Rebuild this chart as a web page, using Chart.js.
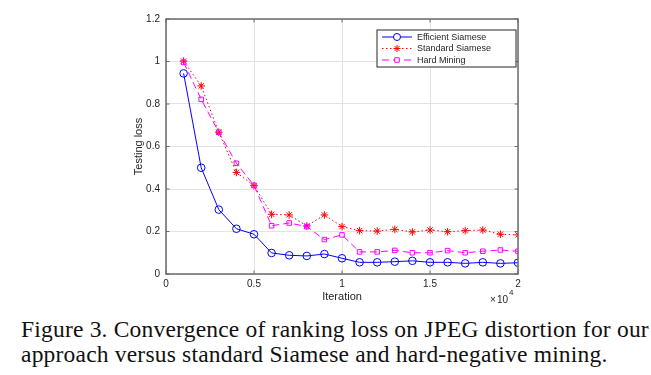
<!DOCTYPE html>
<html>
<head>
<meta charset="utf-8">
<script src="https://cdn.jsdelivr.net/npm/chart.js@4.4.0/dist/chart.umd.min.js"></script>
<style>
  html, body { margin: 0; padding: 0; background: #fff; }
  #wrap { position: relative; width: 651px; height: 375px; overflow: hidden; }
  #chartBox { position: absolute; left: 0; top: 0; width: 651px; height: 310px; }
  .cap { position: absolute; left: 21px; font-family: "Liberation Serif", "Times New Roman", serif; font-size: 23.5px; letter-spacing: 0.2px; color: #111; white-space: nowrap; line-height: 1; }
</style>
</head>
<body>
<div id="wrap">
  <div id="chartBox"><canvas id="grafico" width="651" height="310"></canvas></div>
  <div class="cap" id="cap1" style="top: 318px;">Figure 3. Convergence of ranking loss on JPEG distortion for our</div>
  <div class="cap" id="cap2" style="top: 343px;">approach versus standard Siamese and hard-negative mining.</div>
</div>
<script>
// iteracoes (eixo x)
const iteracoes = [1000, 2000, 3000, 4000, 5000, 6000, 7000, 8000, 9000, 10000,
                   11000, 12000, 13000, 14000, 15000, 16000, 17000, 18000, 19000, 20000];
const efficientSiamese = [0.944, 0.500, 0.303, 0.213, 0.187, 0.099, 0.088, 0.085, 0.094, 0.074,
                          0.055, 0.055, 0.058, 0.062, 0.055, 0.055, 0.050, 0.055, 0.050, 0.053];
const standardSiamese = [1.002, 0.885, 0.667, 0.478, 0.416, 0.281, 0.278, 0.226, 0.278, 0.223,
                         0.204, 0.202, 0.210, 0.198, 0.207, 0.199, 0.204, 0.207, 0.187, 0.184];
const hardMining = [0.996, 0.822, 0.667, 0.521, 0.417, 0.227, 0.240, 0.223, 0.162, 0.184,
                    0.104, 0.104, 0.111, 0.100, 0.100, 0.110, 0.100, 0.107, 0.113, 0.107];
const xTicks = [0, 5000, 10000, 15000, 20000];
const yTicks = [0, 0.2, 0.4, 0.6, 0.8, 1, 1.2];

const nomes = ['Efficient Siamese', 'Standard Siamese', 'Hard Mining'];
const cores = ['#0000ff', '#ff0000', '#ff00ff'];
const dashes = [[], [1.5, 2.5], [7, 4]];
const estilos = ['circle', 'star', 'rect'];
const series = [efficientSiamese, standardSiamese, hardMining];

const AXIS_COLOR = '#6b6b6b';
const TEXT_COLOR = '#262626';
const FONT = '"Liberation Sans", Arial, sans-serif';

function toPoints(vals) {
    return vals.map((v, i) => ({ x: iteracoes[i], y: v }));
}

// desenha a caixa, ticks internos, titulos e a legenda (estilo matlab)
const matlabPlugin = {
    id: 'matlabStyle',
    afterDraw(chart) {
        const ctx = chart.ctx;
        const a = chart.chartArea;
        const xs = chart.scales.x, ys = chart.scales.y;
        ctx.save();
        ctx.strokeStyle = AXIS_COLOR;
        ctx.lineWidth = 1.5;
        ctx.strokeRect(a.left, a.top, a.right - a.left, a.bottom - a.top);
        // ticks internos
        ctx.lineWidth = 1;
        xTicks.forEach(t => {
            const px = xs.getPixelForValue(t);
            ctx.beginPath();
            ctx.moveTo(px, a.bottom); ctx.lineTo(px, a.bottom - 3.5);
            ctx.moveTo(px, a.top); ctx.lineTo(px, a.top + 3.5);
            ctx.stroke();
        });
        yTicks.forEach(t => {
            const py = ys.getPixelForValue(t);
            ctx.beginPath();
            ctx.moveTo(a.left, py); ctx.lineTo(a.left + 3.5, py);
            ctx.moveTo(a.right, py); ctx.lineTo(a.right - 3.5, py);
            ctx.stroke();
        });
        // titulos dos eixos
        ctx.fillStyle = TEXT_COLOR;
        ctx.font = '11px ' + FONT;
        ctx.textAlign = 'center';
        ctx.textBaseline = 'middle';
        ctx.fillText('Iteration', (a.left + a.right) / 2, 297);
        ctx.save();
        ctx.translate(139, (a.top + a.bottom) / 2);
        ctx.rotate(-Math.PI / 2);
        ctx.fillText('Testing loss', 0, 0);
        ctx.restore();
        // multiplicador x10^4
        ctx.font = '10px ' + FONT;
        ctx.textAlign = 'left';
        ctx.fillText('\u00d7', 490, 300);
        ctx.fillText('10', 497, 300);
        ctx.font = '8px ' + FONT;
        ctx.fillText('4', 509, 293);

        // legenda
        const lx = 377, ly = 30, lw = 139, lh = 37;
        ctx.fillStyle = '#ffffff';
        ctx.fillRect(lx, ly, lw, lh);
        ctx.strokeStyle = TEXT_COLOR;
        ctx.lineWidth = 1;
        ctx.strokeRect(lx, ly, lw, lh);
        ctx.font = '9px ' + FONT;
        ctx.textBaseline = 'middle';
        nomes.forEach((nome, i) => {
            const yy = ly + 7 + i * 11.5;
            ctx.strokeStyle = cores[i];
            ctx.lineWidth = 1;
            ctx.setLineDash(dashes[i]);
            ctx.beginPath();
            ctx.moveTo(lx + 5, yy); ctx.lineTo(lx + 35, yy);
            ctx.stroke();
            ctx.setLineDash([]);
            ctx.fillStyle = '#ffffff';
            Chart.helpers.drawPoint(ctx, {
                pointStyle: estilos[i], radius: estilos[i] === 'rect' ? 3.2 : 3.5,
                borderWidth: 1, rotation: 0
            }, lx + 20, yy);
            ctx.fillStyle = TEXT_COLOR;
            ctx.fillText(nome, lx + 40, yy + 0.5);
        });
        ctx.restore();
    }
};

new Chart(document.getElementById('grafico'), {
    type: 'line',
    data: {
        datasets: series.map((vals, i) => ({
            label: nomes[i],
            data: toPoints(vals),
            borderColor: cores[i],
            backgroundColor: 'rgba(0,0,0,0)',
            borderWidth: 1,
            borderDash: dashes[i],
            pointStyle: estilos[i],
            pointRadius: estilos[i] === 'rect' ? 3.2 : 3.8,
            pointBorderColor: cores[i],
            pointBackgroundColor: 'rgba(0,0,0,0)',
            pointBorderWidth: 1,
            tension: 0,
            fill: false
        })).reverse()
    },
    options: {
        responsive: false,
        animation: false,
        devicePixelRatio: 1,
        layout: { padding: { top: 19, right: 133, bottom: 0, left: 0 } },
        plugins: {
            legend: { display: false },
            tooltip: { enabled: false }
        },
        scales: {
            x: {
                type: 'linear',
                min: 0,
                max: 20000,
                afterFit: s => { s.height = 36; },
                afterBuildTicks: s => { s.ticks = xTicks.map(v => ({ value: v })); },
                grid: { color: '#e3e3e3', lineWidth: 1, drawTicks: false },
                border: { display: false },
                ticks: {
                    padding: 4,
                    autoSkip: false,
                    color: TEXT_COLOR,
                    font: { family: FONT, size: 10 },
                    maxRotation: 0,
                    callback: v => String(v / 10000)
                }
            },
            y: {
                min: 0,
                max: 1.2,
                afterFit: s => { s.width = 166; },
                afterBuildTicks: s => { s.ticks = yTicks.map(v => ({ value: v })); },
                grid: { color: '#e3e3e3', lineWidth: 1, drawTicks: false },
                border: { display: false },
                ticks: {
                    padding: 6,
                    color: TEXT_COLOR,
                    font: { family: FONT, size: 10 },
                    callback: v => String(Math.round(v * 10) / 10)
                }
            }
        }
    },
    plugins: [matlabPlugin]
});
</script>
</body>
</html>
